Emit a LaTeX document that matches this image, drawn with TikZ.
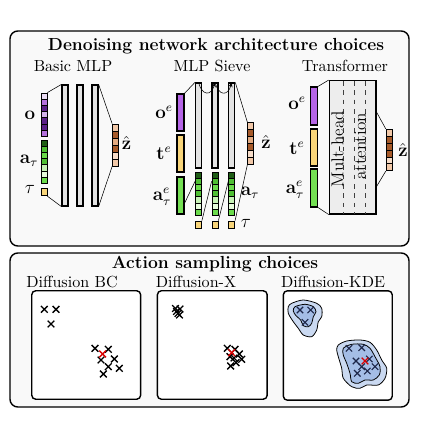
\documentclass[tikz,border=0pt]{standalone}
\usepackage{amsmath}
\usetikzlibrary{arrows.meta,shapes.misc,calc}

\definecolor{panelbg}{HTML}{F9F9F9}
\definecolor{layergray}{HTML}{E3E3E3}
\definecolor{boxgray}{HTML}{EDEDED}
\definecolor{pur1}{HTML}{EADCF4}
\definecolor{pur2}{HTML}{B471DC}
\definecolor{pur3}{HTML}{5B2087}
\definecolor{pur4}{HTML}{D2B2EA}
\definecolor{purE}{HTML}{B565E6}
\definecolor{grn1}{HTML}{1F5D15}
\definecolor{grn2}{HTML}{4FBF34}
\definecolor{grn3}{HTML}{6BDB4C}
\definecolor{grn4}{HTML}{C7F2B6}
\definecolor{grn5}{HTML}{E6FBDC}
\definecolor{grnE}{HTML}{74E053}
\definecolor{yel}{HTML}{F8D57A}
\definecolor{brn1}{HTML}{F1C8A8}
\definecolor{brn2}{HTML}{A65A2A}
\definecolor{brn3}{HTML}{E3AA80}
\definecolor{brn4}{HTML}{F6DCC8}
\definecolor{kdeout}{HTML}{CAD9F1}
\definecolor{kdein}{HTML}{A4BDE6}
\definecolor{navy}{HTML}{1C2548}

\tikzset{
  panel/.style={draw, line width=0.9pt, rounded corners=5pt, fill=panelbg},
  plotbox/.style={draw, line width=0.9pt, rounded corners=2.5pt, fill=white, inner sep=0},
  title/.style={font=\fontsize{11.2}{13}\selectfont\bfseries, inner sep=0},
  sub/.style={font=\fontsize{10.3}{12}\selectfont, inner sep=0},
  lbl/.style={font=\fontsize{11.5}{13}\selectfont, inner sep=0},
  cell/.style={draw, line width=0.5pt, inner sep=0, minimum width=0.135cm, minimum height=0.14cm},
  layer/.style={draw, line width=0.8pt, fill=layergray, inner sep=0, minimum width=0.135cm},
  embed/.style={draw, line width=0.8pt, inner sep=0, minimum width=0.155cm, minimum height=0.835cm},
  wire/.style={line width=0.35pt},
  sample/.style={cross out, draw=black, line width=0.9pt, inner sep=0, minimum size=0.12cm},
  kdesample/.style={sample, draw=navy, line width=0.7pt},
  best/.style={sample, draw=red!85!black}
}

\begin{document}
\begin{tikzpicture}[x=0.0225cm, y=-0.0225cm]
  \useasboundingbox (0,0) rectangle (430,424);
  \draw[panel] (10,31) rectangle (409,246);
  \draw[panel] (10,253) rectangle (409,407);

  \node[title] (archtitle) at (216,46) {Denoising network architecture choices};
  \node[sub] (mlptitle) at (73,66) {Basic MLP};
  \node[sub] (sievetitle) at (212,66) {MLP Sieve};
  \node[sub] (transtitle) at (345,66) {Transformer};

  \foreach \c [count=\i] in {pur1,pur2,pur3,pur4,pur3,pur3,pur2}
    \node[cell, fill=\c] (bo\i) at (44,89.9+6.2*\i) {};
  \foreach \c [count=\i] in {grn1,grn2,grn3,grn2,grn4,grn5,grn3}
    \node[cell, fill=\c] (ba\i) at (44,136.9+6.2*\i) {};
  \node[cell, fill=yel, minimum height=0.17cm] (bt) at (44,192) {};
  \foreach \x [count=\i] in {65,80,95}
    \node[layer, minimum height=2.72cm] (bl\i) at (\x,145.5) {};
  \foreach \c [count=\i] in {brn1,brn2,brn3,brn2,brn4,brn1}
    \node[cell, fill=\c, minimum height=0.1575cm] (bz\i) at (115.5,120.5+7*\i) {};
  \draw[wire] (bo1.north east) -- (bl1.north west);
  \draw[wire] (bt.south east) -- (bl1.south west);
  \draw[wire] (bl3.north east) -- (bz1.north west);
  \draw[wire] (bl3.south east) -- (bz6.south west);
  \node[lbl] (bol) at (30,115) {$\mathbf{o}$};
  \node[lbl] (bal) at (29,161) {$\mathbf{a}_\tau$};
  \node[lbl] (btl) at (30,189) {$\tau$};
  \node[lbl] (bzl) at (126.5,143) {$\hat{\mathbf{z}}$};

  \node[embed, fill=purE] (soe) at (180.5,112.5) {};
  \node[embed, fill=yel] (ste) at (180.5,153.5) {};
  \node[embed, fill=grnE] (sae) at (180.5,195.5) {};
  \foreach \x [count=\j] in {198.5,215,231.7} {
    \node[layer, minimum height=1.91cm] (sl\j) at (\x,125.5) {};
    \foreach \c [count=\i] in {grn1,grn2,grn3,grn2,grn4,grn5,grn3}
      \node[cell, fill=\c] (sa\j-\i) at (\x,168.9+6.2*\i) {};
    \node[cell, fill=yel, minimum height=0.155cm] (st\j) at (\x,224.5) {};
  }
  \foreach \c [count=\i] in {brn1,brn2,brn3,brn2,brn4,brn1}
    \node[cell, fill=\c, minimum height=0.155cm] (sz\i) at (250.8,119.3+6.9*\i) {};
  \draw[wire, -{Stealth[length=3pt,width=2.5pt]}] (sl1.north) to[out=-75, in=-105, looseness=2.2] (sl2.north);
  \draw[wire, -{Stealth[length=3pt,width=2.5pt]}] (sl2.north) to[out=-75, in=-105, looseness=2.2] (sl3.north);
  \draw[wire] (soe.north east) -- (sl1.north west);
  \draw[wire] ($(sae.east)!0.4!(sae.south east)$) -- (sa1-2.west);
  \draw[wire] (st1.north east) -- (sa2-2.west);
  \draw[wire] (st2.north east) -- (sa3-2.west);
  \draw[wire] (st3.north east) -- (sz6.south west);
  \draw[wire] (sl3.north east) -- (sz1.north west);
  \node[lbl] (soel) at (164,112) {$\mathbf{o}^e$};
  \node[lbl] (stel) at (164,153) {$\mathbf{t}^e$};
  \node[lbl] (sael) at (162,197) {$\mathbf{a}^e_\tau$};
  \node[lbl] (szl) at (266,142) {$\hat{\mathbf{z}}$};
  \node[lbl] (sal) at (250,193) {$\mathbf{a}_\tau$};
  \node[lbl] (stl) at (246,223) {$\tau$};

  \node[embed, fill=purE, minimum height=0.855cm] (toe) at (314,106) {};
  \node[embed, fill=yel] (tte) at (314,147.5) {};
  \node[embed, fill=grnE, minimum height=0.85cm] (tae) at (314,188) {};
  \node[draw, line width=0.8pt, fill=boxgray, inner sep=0, minimum width=1.05cm, minimum height=3cm] (tbox) at (352.7,147.3) {};
  \foreach \x in {343.5,354,365}
    \draw[dashed, line width=0.4pt, black!75] (\x,81) -- (\x,213.6);
  \node[sub, rotate=90, font=\fontsize{11}{13}\selectfont] (mha) at (337.5,149) {Mult-head};
  \node[sub, rotate=90, font=\fontsize{11}{13}\selectfont] (att) at (360,146.5) {attention};
  \foreach \c [count=\i] in {brn1,brn2,brn2,brn2,brn4,brn1}
    \node[cell, fill=\c, minimum height=0.155cm] (tz\i) at (389.2,125.85+6.9*\i) {};
  \draw[wire] (toe.north east) -- (tbox.north west);
  \draw[wire] (tae.south east) -- (tbox.south west);
  \draw[wire] ($(tbox.north east)!0.24!(tbox.south east)$) -- (tz1.north west);
  \draw[wire] ($(tbox.north east)!0.79!(tbox.south east)$) -- (tz6.south west);
  \node[lbl] (toel) at (297,103) {$\mathbf{o}^e$};
  \node[lbl] (ttel) at (297,148) {$\mathbf{t}^e$};
  \node[lbl] (tael) at (295,190) {$\mathbf{a}^e_\tau$};
  \node[lbl] (tzl) at (403,150) {$\hat{\mathbf{z}}$};

  \node[title] (samptitle) at (215,264) {Action sampling choices};
  \node[sub] (bctitle) at (72,282) {Diffusion BC};
  \node[sub] (xtitle) at (196,282) {Diffusion-X};
  \node[sub] (kdetitle) at (333,282) {Diffusion-KDE};
  \node[plotbox, minimum width=2.45cm, minimum height=2.44cm] (bcplot) at (86.2,345) {};
  \node[plotbox, minimum width=2.47cm, minimum height=2.44cm] (xplot) at (212.3,345) {};
  \node[plotbox, minimum width=2.45cm, minimum height=2.46cm] (kdeplot) at (337.8,345.5) {};

  \foreach \x/\y [count=\i] in {44.3/309.3, 56/309.3, 51/324, 95/348.3, 108.3/349.3, 101/360,
      114.3/359, 108.3/366.7, 119.3/368.3, 103.3/374}
    \node[sample] (bcs\i) at (\x,\y) {};
  \node[best] (bcbest) at (102.7,354) {};

  \foreach \x/\y [count=\i] in {175.5/308.5, 180/309, 178/313.5, 176.5/311.5, 179.5/315,
      227.3/348.3, 235/349.3, 230/356.7, 239.3/354, 241.7/359.3, 236/362.7, 230.7/366, 234/358}
    \node[sample] (xs\i) at (\x,\y) {};
  \node[best] (xbest) at (231.7,352.7) {};

  \draw[line width=0.5pt, fill=kdeout] plot[smooth cycle] coordinates {(291.7,303.3) (303.3,300)
    (316.7,303.3) (321.7,308.3) (321.7,316.7) (318.3,321.7) (316.7,330) (311.7,336.7) (303.3,335)
    (298.3,328.3) (293.3,321.7) (288.3,313.3) (288.3,306.7)};
  \draw[line width=0.5pt, fill=kdein] plot[smooth cycle] coordinates {(295,306.7) (305,304.3)
    (313.3,306.7) (316,311.7) (313.3,316.7) (311.7,323.3) (308.3,326.7) (303.3,325.7) (300.7,320)
    (296,315.7) (293.3,311)};
  \draw[line width=0.5pt, fill=kdeout] plot[smooth cycle] coordinates {(338.3,345) (346.7,341)
    (360,340) (370,342.3) (376.7,350) (381.7,360) (386.7,368.3) (385,378.3) (378.3,385)
    (366.7,385) (360,388.3) (351.7,386.7) (343.3,378.3) (341.7,368.3) (338.3,356.7) (336.7,350)};
  \draw[line width=0.5pt, fill=kdein] plot[smooth cycle] coordinates {(343.3,348.3) (351.7,344.3)
    (363.3,344.3) (370,348.3) (375,356.7) (380,366.7) (379.3,375) (373.3,380) (365,380)
    (358.3,383.3) (351.7,381.7) (350,373.3) (346.7,363.3) (343.3,355)};
  \foreach \x/\y [count=\i] in {300/310, 310.7/310, 305/322.3, 349/348.3, 361.7/347.7, 356/361,
      369.3/359, 361.7/366.7, 375/366.7, 357.3/373.3, 367.3/371}
    \node[kdesample] (ks\i) at (\x,\y) {};
  \node[best] (kbest) at (365,361) {};
\end{tikzpicture}
\end{document}
